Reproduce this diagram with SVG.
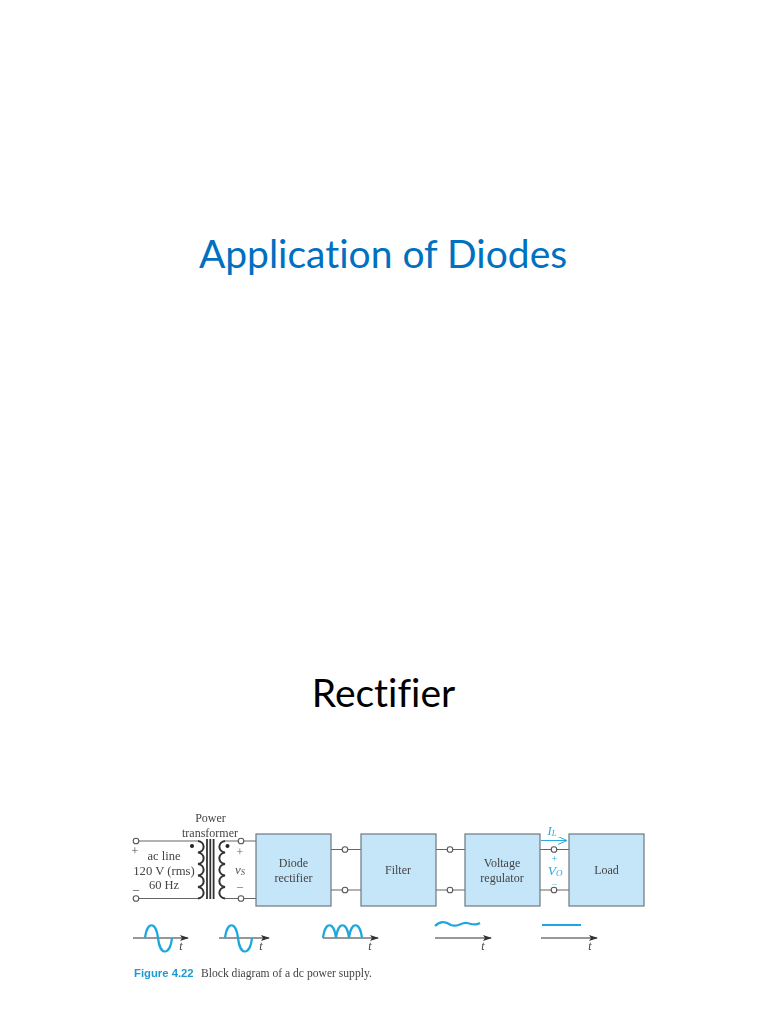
<svg xmlns="http://www.w3.org/2000/svg" width="768" height="1024" viewBox="0 0 768 1024">
<style>
.h{font-family:Lato,"Open Sans",sans-serif;font-size:39px;text-anchor:middle;font-variant-ligatures:none}
.s{font-family:"Liberation Serif","Times New Roman",serif;font-size:12px;fill:#444;text-anchor:middle}
.i{font-style:italic}
.b{fill:#c5e6f8;stroke:#6b7780;stroke-width:1.2}
.w{fill:none;stroke:#666;stroke-width:1.2}
.k{fill:none;stroke:#333;stroke-width:2}
.c{fill:#fff;stroke:#555;stroke-width:1.1}
.a{fill:none;stroke:#333;stroke-width:1.1}
.v{fill:none;stroke:#1fa8de;stroke-width:2.200}
</style>
<defs>
<marker id="ah" markerWidth="10" markerHeight="6" refX="8" refY="3" orient="auto" markerUnits="userSpaceOnUse"><path d="M0 0L9 3L0 6L2 3Z" fill="#333"/></marker>
<marker id="bh" markerWidth="10" markerHeight="8" refX="9" refY="4" orient="auto" markerUnits="userSpaceOnUse"><path d="M0 0L9 4L0 8" fill="none" stroke="#29a9dc" stroke-width="1"/></marker>
<filter id="soft" x="-5%" y="-5%" width="110%" height="110%"><feGaussianBlur stdDeviation="0.45"/></filter>
</defs>
<rect width="768" height="1024" fill="#fff"/>
<text id="title" class="h" x="383" y="268" fill="#0070c0">Application of Diodes</text>
<text id="subtitle" class="h" x="383.500" y="707" fill="#000">Rectifier</text>
<g id="figure" filter="url(#soft)">
<g id="connectors">
<path class="w" d="M139 841H198M139 898.500H198M244 841H256M244 898.500H256M225 841H238M225 898.500H238M331 849.500H361M331 890H361M436 849.500H465M436 890H465M540 849.500H569M540 890H569"/>
<path class="k" d="M198 841a6.500 5.800 0 0 1 0 11.500a6.500 5.800 0 0 1 0 11.500a6.500 5.800 0 0 1 0 11.500a6.500 5.800 0 0 1 0 11.500a6.500 5.800 0 0 1 0 11.500"/>
<path class="k" d="M225 841a6.500 5.800 0 0 0 0 11.500a6.500 5.800 0 0 0 0 11.500a6.500 5.800 0 0 0 0 11.500a6.500 5.800 0 0 0 0 11.500a6.500 5.800 0 0 0 0 11.500"/>
<path fill="none" stroke="#333" stroke-width="1.800" d="M207 839V899M210.300 839V899M213.600 839V899"/>
<path class="a" d="M133 938H188" marker-end="url(#ah)"/>
<path class="a" d="M219 938H269" marker-end="url(#ah)"/>
<path class="a" d="M323 938H378" marker-end="url(#ah)"/>
<path class="a" d="M435 938H491" marker-end="url(#ah)"/>
<path class="a" d="M541 938H597" marker-end="url(#ah)"/>
<path class="v" d="M145 938C147 921 156 921 158 938C160 956 170 956 172 938"/>
<path class="v" d="M225 938C227 921 236 921 238 938C240 956 250 956 252 938"/>
<path class="v" d="M323 938C325 921 334 921 336 938C338 921 347 921 349 938C351 921 360 921 362 938"/>
<path class="v" d="M435 926C441 920 446 922 451 925C457 928 461 922 467 923C472 924 475 926 480 923"/>
<path class="v" d="M542 925H581"/>
<path d="M541 840.500H567" fill="none" stroke="#29a9dc" stroke-width="1" marker-end="url(#bh)"/>
</g>
<g id="power-transformer">
<text class="s" x="210.500" y="822">Power</text>
<text class="s" x="210" y="837">transformer</text>
<circle cx="192" cy="846" r="2" fill="#222"/>
<circle cx="227.500" cy="846" r="2" fill="#222"/>
<circle class="c" cx="136" cy="841" r="2.800"/>
<circle class="c" cx="136" cy="898.500" r="2.800"/>
<circle class="c" cx="241" cy="841" r="2.800"/>
<circle class="c" cx="241" cy="898.500" r="2.800"/>
</g>
<g id="ac-line">
<text class="s" x="135" y="855">+</text>
<text class="s" x="164" y="860" style="font-size:12.500px">ac line</text>
<text class="s" x="164" y="875" style="font-size:12.700px">120 V (rms)</text>
<text class="s" x="164" y="889" style="font-size:12.500px">60 Hz</text>
<text class="s" x="136" y="893">–</text>
<text class="s" x="240" y="856" style="fill:#666">+</text>
<text class="s i" x="240" y="874" style="font-size:13px;fill:#555">v<tspan font-size="8.500" dy="1">S</tspan></text>
<text class="s" x="240" y="890" style="fill:#666">–</text>
</g>
<g id="diode-rectifier">
<rect class="b" x="256" y="834" width="75" height="72"/>
<text class="s" x="293.500" y="867">Diode</text>
<text class="s" x="293.500" y="882">rectifier</text>
</g>
<g id="filter-block">
<rect class="b" x="361" y="834" width="75" height="72"/>
<text class="s" x="398" y="874">Filter</text>
</g>
<g id="voltage-regulator">
<rect class="b" x="465" y="834" width="75" height="72"/>
<text class="s" x="502" y="867">Voltage</text>
<text class="s" x="502" y="882">regulator</text>
</g>
<g id="load">
<rect class="b" x="569" y="834" width="75" height="72"/>
<text class="s" x="606.500" y="874">Load</text>
</g>
<g id="terminals">
<circle class="c" cx="345" cy="849.500" r="2.800"/>
<circle class="c" cx="345" cy="890" r="2.800"/>
<circle class="c" cx="450" cy="849.500" r="2.800"/>
<circle class="c" cx="450" cy="890" r="2.800"/>
<circle class="c" cx="554" cy="849.500" r="2.800"/>
<circle class="c" cx="554" cy="890" r="2.800"/>
</g>
<g id="output-labels">
<text class="s i" x="552" y="835" style="fill:#29a9dc;font-size:12.500px">I<tspan font-size="8.500" dy="1">L</tspan></text>
<text class="s" x="554.500" y="862" style="fill:#29a9dc;font-size:10px">+</text>
<text class="s i" x="555" y="875" style="fill:#29a9dc;font-size:13.500px">V<tspan font-size="9" dy="1">O</tspan></text>
<text class="s" x="554.500" y="886" style="fill:#29a9dc;font-size:9px">–</text>
</g>
<g id="axis-labels">
<text class="s i" x="181" y="950">t</text>
<text class="s i" x="261" y="950">t</text>
<text class="s i" x="370" y="950">t</text>
<text class="s i" x="483" y="950">t</text>
<text class="s i" x="590" y="950">t</text>
</g>
<g id="caption">
<text x="134" y="977" font-family="Liberation Sans,Arial,sans-serif" font-weight="700" font-size="11.300" fill="#1e9bd0">Figure 4.22</text>
<text x="201" y="977" font-family="Liberation Serif,serif" font-size="11.600" fill="#444">Block diagram of a dc power supply.</text>
</g>
</g>
</svg>
